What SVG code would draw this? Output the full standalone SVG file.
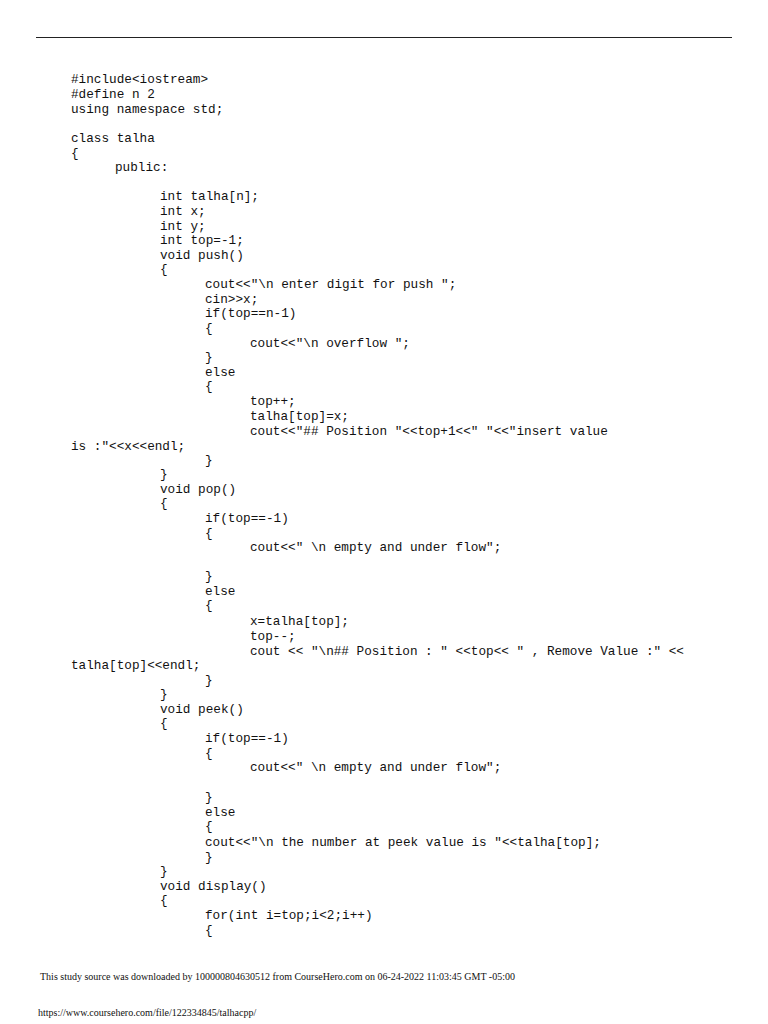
<svg xmlns="http://www.w3.org/2000/svg" width="768" height="1024" viewBox="0 0 768 1024">
<style>
.c{font-family:"Liberation Mono","DejaVu Sans Mono",monospace;font-size:12.7px;fill:#111;white-space:pre}
.f{font-family:"Liberation Serif",serif;font-size:10px;fill:#111}
</style>
<rect width="768" height="1024" fill="#fff"/>
<line x1="36" y1="37.5" x2="732" y2="37.5" stroke="#222" stroke-width="1"/>
<g id="code" class="c" xml:space="preserve">
<text x="71" y="83">#include&lt;iostream&gt;</text>
<text x="71" y="98">#define n 2</text>
<text x="71" y="113">using namespace std;</text>
<text x="71" y="142">class talha</text>
<text x="71" y="157">{</text>
<text x="115" y="171">public:</text>
<text x="160" y="200">int talha[n];</text>
<text x="160" y="215">int x;</text>
<text x="160" y="230">int y;</text>
<text x="160" y="244">int top=-1;</text>
<text x="160" y="259">void push()</text>
<text x="160" y="273">{</text>
<text x="205" y="288">cout&lt;&lt;"\n enter digit for push ";</text>
<text x="205" y="303">cin&gt;&gt;x;</text>
<text x="205" y="317">if(top==n-1)</text>
<text x="205" y="332">{</text>
<text x="250" y="347">cout&lt;&lt;"\n overflow ";</text>
<text x="205" y="361">}</text>
<text x="205" y="376">else</text>
<text x="205" y="390">{</text>
<text x="250" y="405">top++;</text>
<text x="250" y="420">talha[top]=x;</text>
<text x="250" y="435">cout&lt;&lt;"## Position  "&lt;&lt;top+1&lt;&lt;" "&lt;&lt;"insert value</text>
<text x="71" y="450">is :"&lt;&lt;x&lt;&lt;endl;</text>
<text x="205" y="464">}</text>
<text x="160" y="478">}</text>
<text x="160" y="493">void pop()</text>
<text x="160" y="507">{</text>
<text x="205" y="522">if(top==-1)</text>
<text x="205" y="537">{</text>
<text x="250" y="551">cout&lt;&lt;" \n empty  and under flow";</text>
<text x="205" y="580">}</text>
<text x="205" y="595">else</text>
<text x="205" y="609">{</text>
<text x="250" y="625">x=talha[top];</text>
<text x="250" y="640">top--;</text>
<text x="250" y="655">cout &lt;&lt; "\n## Position : " &lt;&lt;top&lt;&lt; " , Remove Value  :" &lt;&lt;</text>
<text x="71" y="669">talha[top]&lt;&lt;endl;</text>
<text x="205" y="684">}</text>
<text x="160" y="698">}</text>
<text x="160" y="713">void peek()</text>
<text x="160" y="727">{</text>
<text x="205" y="742">if(top==-1)</text>
<text x="205" y="757">{</text>
<text x="250" y="771">cout&lt;&lt;" \n empty  and under flow";</text>
<text x="205" y="801">}</text>
<text x="205" y="816">else</text>
<text x="205" y="830">{</text>
<text x="205" y="846">cout&lt;&lt;"\n the number at peek value is "&lt;&lt;talha[top];</text>
<text x="205" y="861">}</text>
<text x="160" y="875">}</text>
<text x="160" y="890">void display()</text>
<text x="160" y="904">{</text>
<text x="205" y="919">for(int i=top;i&lt;2;i++)</text>
<text x="205" y="934">{</text>
</g>
<g id="footer" class="f">
<text x="40" y="980">This study source was downloaded by 100000804630512 from CourseHero.com on 06-24-2022 11:03:45 GMT -05:00</text>
<text x="38" y="1016">https://www.coursehero.com/file/122334845/talhacpp/</text>
</g>
</svg>
